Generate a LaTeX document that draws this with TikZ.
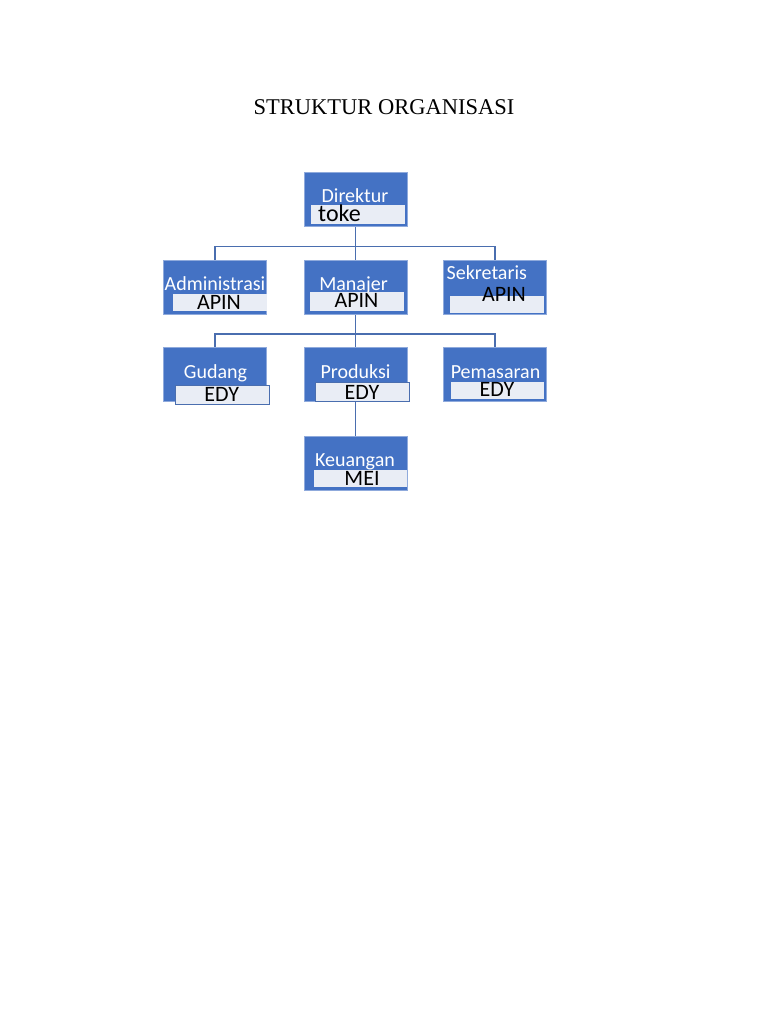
\documentclass[tikz,border=0pt]{standalone}
\usepackage{fontspec}
\setmainfont{Liberation Serif}
\newfontfamily\calibri{Carlito}
\definecolor{boxblue}{HTML}{4472C4}
\definecolor{linkblue}{HTML}{4A6EAF}
\definecolor{namefill}{HTML}{E9EDF5}
\definecolor{boxedge}{HTML}{8FAADC}
\tikzset{
  unit/.style={rectangle, fill=boxblue, draw=boxedge, line width=0.8pt, minimum width=103pt, minimum height=54pt, inner sep=0pt},
  namebox/.style={rectangle, fill=namefill, draw=namefill, line width=0.5pt, inner sep=0pt},
  nameboxedge/.style={namebox, draw=linkblue, line width=1pt},
  role/.style={text=white, font=\calibri\fontsize{20}{24}\selectfont, inner sep=0pt, anchor=base},
  person/.style={text=black, font=\calibri\fontsize{22}{26}\selectfont, inner sep=0pt, anchor=base},
  link/.style={draw=linkblue, line width=1.3pt},
}
\begin{document}
\begin{tikzpicture}[x=1pt,y=-1pt]
\useasboundingbox (0,0) rectangle (768,1024);
\fill[white] (0,0) rectangle (768,1024);
\node[font=\fontsize{22.5}{27}\selectfont, anchor=base, inner sep=0pt] (title) at (384,114.3) {STRUKTUR ORGANISASI};

% connectors
\coordinate (j1) at (355.5,246.7);
\coordinate (j2) at (355.5,334);
\node[unit] (dir) at (355.5,199.5) {};
\node[unit] (adm) at (215,287) {};
\node[unit] (man) at (355.5,287) {};
\node[unit] (sek) at (495,287) {};
\node[unit] (gud) at (215,374.7) {};
\node[unit] (pro) at (355.5,374.7) {};
\node[unit] (pem) at (495,374.7) {};
\node[unit] (keu) at (355.5,463) {};

\draw[link] (dir.south) -- (man.north);
\draw[link] (adm.north) |- (j1) -| (sek.north);
\draw[link] (man.south) -- (pro.north);
\draw[link] (gud.north) |- (j2) -| (pem.north);
\draw[link] (pro.south) -- (keu.north);

% redraw boxes over connector ends
\node[unit] at (dir) {};
\node[unit] at (adm) {};
\node[unit] at (man) {};
\node[unit] at (sek) {};
\node[unit] at (gud) {};
\node[unit] at (pro) {};
\node[unit] at (pem) {};
\node[unit] at (keu) {};

% role labels
\node[role] (ldir) at (355,203) {Direktur};
\node[role] (ladm) at (215,290) {Administrasi};
\node[role] (lman) at (353.5,290) {Manajer};
\node[role, anchor=base west] (lsek) at (446.5,279) {Sekretaris};
\node[role] (lgud) at (215.5,378.3) {Gudang};
\node[role] (lpro) at (355.5,378.3) {Produksi};
\node[role] (lpem) at (495.5,378.3) {Pemasaran};
\node[role] (lkeu) at (355,466.7) {Keuangan};

% name boxes
\node[namebox, minimum width=93pt, minimum height=17.6pt] (ndir) at (357.5,214.5) {};
\node[namebox, minimum width=92.7pt, minimum height=16.4pt] (nadm) at (219.7,302.5) {};
\node[namebox, minimum width=93pt, minimum height=17.3pt] (nman) at (356.5,301.3) {};
\node[namebox, minimum width=92.6pt, minimum height=16.3pt] (nsek) at (497,304.2) {};
\node[nameboxedge, minimum width=94.3pt, minimum height=19pt] (ngud) at (222.2,394.5) {};
\node[nameboxedge, minimum width=94.3pt, minimum height=19pt] (npro) at (362.8,392.2) {};
\node[namebox, minimum width=91.6pt, minimum height=15.6pt] (npem) at (497.5,390.5) {};
\node[namebox, minimum width=92.7pt, minimum height=16.7pt] (nkeu) at (360.3,478.3) {};

% person labels
\node[person, anchor=base west, font=\calibri\fontsize{24}{28}\selectfont] (pdir) at (318,221.7) {toke};
\node[person] (padm) at (219,309) {APIN};
\node[person] (pman) at (356.5,307.7) {APIN};
\node[person] (psek) at (504,301.7) {APIN};
\node[person] (pgud) at (221.7,401) {EDY};
\node[person] (ppro) at (362,399) {EDY};
\node[person] (ppem) at (497,396.7) {EDY};
\node[person] (pkeu) at (362,485.7) {MEI};
\end{tikzpicture}
\end{document}
